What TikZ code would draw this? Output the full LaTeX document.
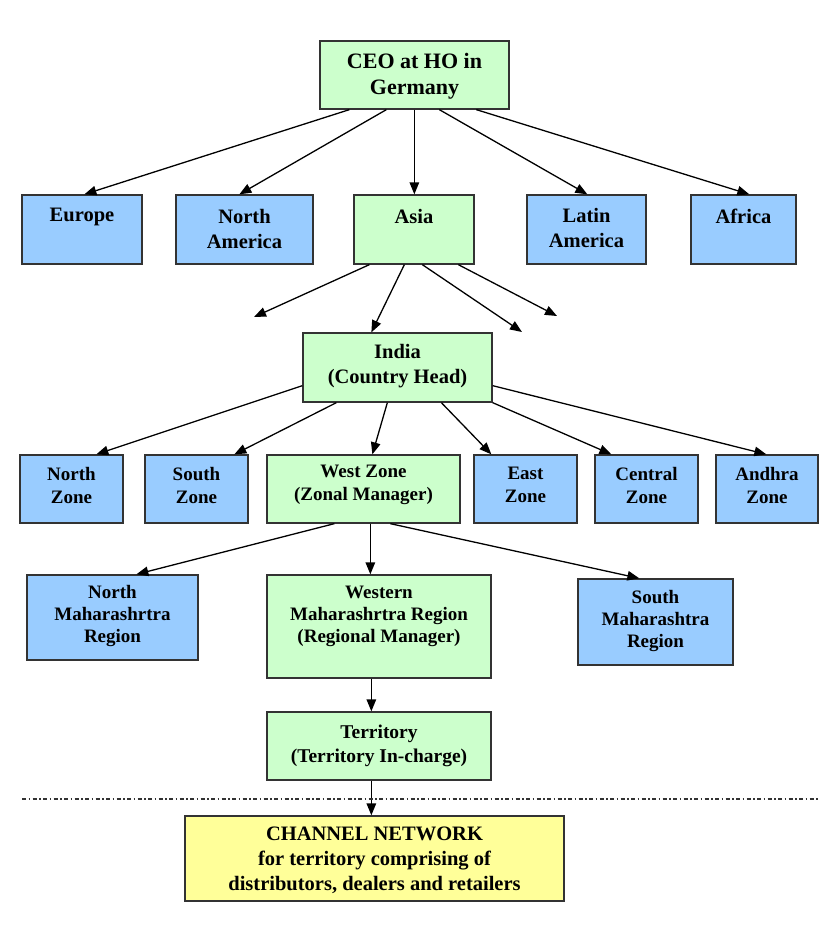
\documentclass[tikz,border=0pt]{standalone}
\usepackage{fontspec}
\setmainfont{Liberation Serif}
\usetikzlibrary{arrows.meta,fit,calc}
\definecolor{bxblue}{HTML}{99CCFF}
\definecolor{bxgreen}{HTML}{CCFFCC}
\definecolor{bxyellow}{HTML}{FFFF99}
\definecolor{bxline}{HTML}{333333}
\tikzset{
  box/.style={draw=bxline, line width=1.3pt, inner sep=0pt, rectangle},
  bluebox/.style={box, fill=bxblue},
  greenbox/.style={box, fill=bxgreen},
  yellowbox/.style={box, fill=bxyellow},
  txt/.style={align=center, inner sep=0pt, font=\bfseries\fontsize{20.5}{25}\selectfont},
  txtceo/.style={txt, font=\bfseries\fontsize{22}{26}\selectfont},
  txtzone/.style={txt, font=\bfseries\fontsize{19}{23}\selectfont},
  txtreg/.style={txt, font=\bfseries\fontsize{19}{22}\selectfont},
  txtter/.style={txt, font=\bfseries\fontsize{19.5}{24}\selectfont},
  txtch/.style={txt, font=\bfseries\fontsize{20.5}{25}\selectfont},
  arr/.style={line width=1.3pt, black, -{Triangle[length=12pt,width=9.5pt]}},
  sep/.style={line width=1.4pt, bxline, dash pattern=on 4pt off 2.5pt on 1.5pt off 2.5pt}
}
\begin{document}
\begin{tikzpicture}[x=1pt,y=-1pt]
\useasboundingbox (0,0) rectangle (840,945);
% boxes
\node[greenbox, fit={(320,41)(509,109)}] (ceo) {};
\node[bluebox, fit={(22,195)(142,264)}] (eur) {};
\node[bluebox, fit={(176,195)(313,264)}] (nam) {};
\node[greenbox, fit={(354,195)(474,264)}] (asia) {};
\node[bluebox, fit={(527,195)(646,264)}] (lam) {};
\node[bluebox, fit={(691,195)(796,264)}] (afr) {};
\node[greenbox, fit={(303,333)(492,402)}] (india) {};
\node[bluebox, fit={(20,455)(123,523)}] (nz) {};
\node[bluebox, fit={(145,455)(248,523)}] (sz) {};
\node[greenbox, fit={(267,455)(460,523)}] (wz) {};
\node[bluebox, fit={(474,455)(577,523)}] (ez) {};
\node[bluebox, fit={(595,455)(698,523)}] (cz) {};
\node[bluebox, fit={(716,455)(818,523)}] (az) {};
\node[bluebox, fit={(27,575)(198,660)}] (nm) {};
\node[greenbox, fit={(267,575)(491,678)}] (wm) {};
\node[bluebox, fit={(578,579)(733,665)}] (sm) {};
\node[greenbox, fit={(267,712)(491,780)}] (ter) {};
\node[yellowbox, fit={(185,816)(564,901)}] (ch) {};
% texts
\node[txtceo] (ceo-t) at (414.5,76) {CEO at HO in\\Germany};
\node[txt] (eur-t) at (82,217) {Europe};
\node[txt] (nam-t) at (244.5,228.5) {North\\America};
\node[txt] (asia-t) at (414,216) {Asia};
\node[txt] (lam-t) at (586.5,228) {Latin\\America};
\node[txt] (afr-t) at (743.5,216) {Africa};
\node[txt] (india-t) at (397.5,366.5) {India\\(Country Head)};
\node[txtzone] (nz-t) at (71.5,485.5) {North\\Zone};
\node[txtzone] (sz-t) at (196.5,485) {South\\Zone};
\node[txtzone] (wz-t) at (363.5,484.5) {West Zone\\(Zonal Manager)};
\node[txtzone] (ez-t) at (525.5,485) {East\\Zone};
\node[txtzone] (cz-t) at (646.5,485) {Central\\Zone};
\node[txtzone] (az-t) at (767,485) {Andhra\\Zone};
\node[txtreg] (nm-t) at (112.5,616) {North\\Maharashrtra\\Region};
\node[txtreg] (wm-t) at (379,616) {Western\\Maharashrtra Region\\(Regional Manager)};
\node[txtreg] (sm-t) at (655.5,621) {South\\Maharashtra\\Region};
\node[txtter] (ter-t) at (379,746) {Territory\\(Territory In-charge)};
\node[txtch] (ch-t) at (374.5,860) {CHANNEL NETWORK\\for territory comprising of\\distributors, dealers and retailers};
% free ends
\coordinate (f1) at (254,317);
\coordinate (f2) at (522,332);
\coordinate (f3) at (557,316);
\coordinate (s1) at (22,799);
\coordinate (s2) at (818,799);
% connectors
\draw[arr] ($(ceo.south west)+(30,0)$) -- ($(eur.north west)+(63,0)$);
\draw[arr] ($(ceo.south west)+(67,0)$) -- ($(nam.north west)+(64,0)$);
\draw[arr] ($(ceo.south west)+(95,0)$) -- ($(asia.north west)+(61,0)$);
\draw[arr] ($(ceo.south west)+(120,0)$) -- ($(lam.north west)+(61,0)$);
\draw[arr] ($(ceo.south west)+(157,0)$) -- ($(afr.north west)+(59,0)$);
\draw[arr] ($(asia.south west)+(16,0)$) -- (f1);
\draw[arr] ($(asia.south west)+(51,0)$) -- ($(india.north west)+(69,0)$);
\draw[arr] ($(asia.south west)+(69,0)$) -- (f2);
\draw[arr] ($(asia.south west)+(105,0)$) -- (f3);
\draw[arr] ($(india.south west)+(0,-17)$) -- ($(nz.north west)+(77,0)$);
\draw[arr] ($(india.south west)+(34,0)$) -- ($(sz.north west)+(90,0)$);
\draw[arr] ($(india.south west)+(85,0)$) -- ($(wz.north west)+(106,0)$);
\draw[arr] ($(india.south west)+(139,0)$) -- ($(ez.north west)+(18,0)$);
\draw[arr] (india.south east) -- ($(cz.north west)+(17,0)$);
\draw[arr] ($(india.south east)+(0,-17)$) -- ($(az.north west)+(51,0)$);
\draw[arr] ($(wz.south west)+(68,0)$) -- ($(nm.north west)+(110,0)$);
\draw[arr] ($(wz.south west)+(104,0)$) -- ($(wm.north west)+(104,0)$);
\draw[arr] ($(wz.south west)+(124,0)$) -- ($(sm.north west)+(62,0)$);
\draw[arr] ($(wm.south west)+(105,0)$) -- ($(ter.north west)+(105,0)$);
\draw[arr] ($(ter.south west)+(105,0)$) -- ($(ch.north west)+(187,0)$);
\draw[sep] (s1) -- (s2);
\end{tikzpicture}
\end{document}
